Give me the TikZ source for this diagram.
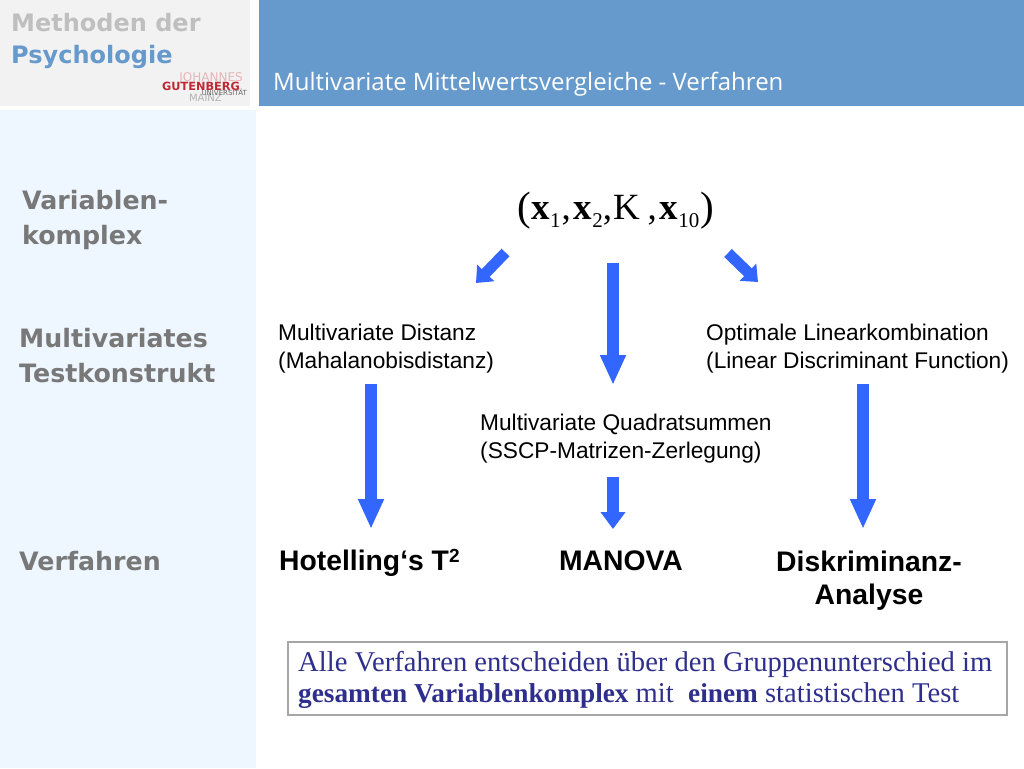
\documentclass[tikz,border=0pt]{standalone}
\usepackage{fontspec}
\setmainfont{Liberation Sans}
\newfontfamily\headfont{DejaVu Sans}
\newfontfamily\titlefont{Open Sans}
\newfontfamily\boxfont{Liberation Serif}
\usetikzlibrary{arrows.meta}
\definecolor{headblue}{RGB}{102, 153, 204}
\definecolor{headgrey}{RGB}{242, 242, 242}
\definecolor{panelblue}{RGB}{238, 246, 255}
\definecolor{labelgrey}{RGB}{120, 120, 120}
\definecolor{arrowblue}{RGB}{51, 102, 255}
\definecolor{boxtext}{RGB}{46, 46, 140}
\definecolor{logored}{RGB}{190, 40, 50}
\newcommand{\subidx}[1]{\raisebox{-8pt}{\fontsize{21}{21}\selectfont #1}}
\newcommand{\bigparen}[1]{\raisebox{-1pt}{\fontsize{41}{41}\selectfont #1}}
\newcommand{\boxbold}[1]{\textbf{\fontsize{27.3}{31}\selectfont #1}}
\tikzset{
  sidelabel/.style={anchor=west, align=left, text=labelgrey, font=\headfont\bfseries\fontsize{25.3}{35}\selectfont, inner sep=0pt},
  smalllabel/.style={anchor=west, align=left, font=\fontsize{22.7}{28}\selectfont, inner sep=0pt},
  methodlabel/.style={align=center, font=\bfseries\fontsize{28.3}{33}\selectfont, inner sep=0pt},
  blockarrow/.style={draw=arrowblue, line width=12pt, -{Triangle[length=30pt, width=24pt]}},
  smallarrow/.style={draw=arrowblue, line width=11pt, -{Triangle[length=14pt, width=23pt]}},
}
\begin{document}
\begin{tikzpicture}[x=1pt, y=-1pt]
      \useasboundingbox (0,0) rectangle (1024,768);
      
      % Header and side panel
      \fill[headgrey] (0,0) rectangle (250,106);
      \fill[headblue] (259,0) rectangle (1024,106);
      \fill[panelblue] (0,110) rectangle (256,768);
      
      % Header texts
      \node[anchor=west, inner sep=0pt, text=black!25, font=\headfont\bfseries\fontsize{24}{30}\selectfont] (methoden) at (11,23) {Methoden der};
      \node[anchor=west, inner sep=0pt, text=headblue, font=\headfont\bfseries\fontsize{24}{30}\selectfont] (psychologie) at (11,57) {Psychologie};
      \node[anchor=west, inner sep=0pt, text=white, font=\titlefont\fontsize{24}{28}\selectfont] (titel) at (273,84) {Multivariate Mittelwertsvergleiche - Verfahren};
      
      % Logo
      \node[anchor=east, inner sep=0pt, text=logored!35, font=\headfont\fontsize{12}{12}\selectfont] (johannes) at (243,78) {JOHANNES};
      \node[anchor=east, inner sep=0pt, text=black!30, font=\headfont\fontsize{10}{12}\selectfont] (mainz) at (222,98) {MAINZ};
      \node[anchor=west, inner sep=0pt, text=logored, font=\headfont\bfseries\fontsize{11.3}{14}\selectfont] (gutenberg) at (162,86) {GUTENBERG};
      \node[anchor=east, inner sep=0pt, text=black!60, font=\headfont\fontsize{7}{8}\selectfont] (uni) at (247,92) {UNIVERSITÄT};
      
      % Side labels
      \node[sidelabel] (komplex) at (22,220) {Variablen-\\komplex};
      \node[sidelabel] (testkonstrukt) at (19,356) {Multivariates\\Testkonstrukt};
      \node[sidelabel] (verfahren) at (19,561) {Verfahren};
      
      % Variable vector
      \node[inner sep=0pt, font=\boxfont\fontsize{37}{40}\selectfont] (vektor) at (616,211)
        {\bigparen{(}\textbf{x}\subidx{1}\hspace{1pt},\hspace{3pt}\textbf{x}\subidx{2}\hspace{0pt},\hspace{1pt}K\hspace{8pt},\hspace{3pt}\textbf{x}\subidx{10}\hspace{1pt}\bigparen{)}};
      
      % Middle labels
      \node[smalllabel] (distanz) at (278,349) {Multivariate Distanz\\(Mahalanobisdistanz)};
      \node[smalllabel] (linear) at (706,349) {Optimale Linearkombination\\(Linear Discriminant Function)};
      \node[smalllabel] (quadrat) at (480,439) {Multivariate Quadratsummen\\(SSCP-Matrizen-Zerlegung)};
      
      % Method labels
      \node[methodlabel, anchor=west] (hotelling) at (279,563) {Hotelling‘s T\raisebox{8pt}{\fontsize{19}{19}\selectfont 2}};
      \node[methodlabel] (manova) at (621,561) {MANOVA};
      \node[methodlabel, anchor=north] (diskriminanz) at (869,551) {Diskriminanz-\\Analyse};
      
      % Arrow ends
      \coordinate (a1) at (505.5,252.5);
      \coordinate (b1) at (476,283);
      \coordinate (a2) at (613,263);
      \coordinate (b2) at (613,385);
      \coordinate (a3) at (728,253);
      \coordinate (b3) at (758,282);
      \coordinate (a4) at (371,384);
      \coordinate (b4) at (371,529);
      \coordinate (a5) at (863,384);
      \coordinate (b5) at (863,529);
      \coordinate (a6) at (613,477);
      \coordinate (b6) at (613,529);
      
      % Arrows
      \draw[smallarrow] (a1) -- (b1);
      \draw[blockarrow] (a2) -- (b2);
      \draw[smallarrow] (a3) -- (b3);
      \draw[blockarrow] (a4) -- (b4);
      \draw[blockarrow] (a5) -- (b5);
      \draw[blockarrow, -{Triangle[length=17pt, width=24pt]}] (a6) -- (b6);
      
      % Summary box
      \node[draw=black!35, line width=1.5pt, anchor=north west, minimum width=719pt, minimum height=73pt, inner sep=0pt] (rahmen) at (287,641) {};
      \node[anchor=west, align=left, inner sep=0pt, text=boxtext, font=\boxfont\fontsize{28.6}{31}\selectfont] (fazit) at (298,680)
        {Alle Verfahren entscheiden über den Gruppenunterschied im\\\boxbold{gesamten Variablenkomplex} mit\ \ \boxbold{einem} statistischen Test};
\end{tikzpicture}
\end{document}
